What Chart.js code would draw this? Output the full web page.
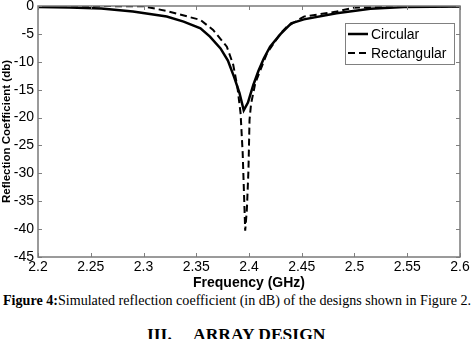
<!DOCTYPE html>
<html>
<head>
<meta charset="utf-8">
<script src="https://cdn.jsdelivr.net/npm/chart.js@4"></script>
<style>
  body { margin: 0; background: #fff; width: 474px; height: 339px; overflow: hidden; position: relative; }
  #plot { position: absolute; left: 0; top: 0; }
  .cap { position: absolute; font-family: "Liberation Serif", "Times New Roman", serif; color: #000; white-space: nowrap; }
  #caption { top: 292px; left: 0; width: 474px; text-align: center; font-size: 14.1px; }
  #secnum { top: 324px; left: 147px; font-size: 17.5px; font-weight: bold; }
  #secname { top: 324px; left: 193px; font-size: 17.5px; font-weight: bold; }
</style>
</head>
<body>
<canvas id="plot" width="474" height="292"></canvas>
<div class="cap" id="caption"><b>Figure 4:</b>Simulated reflection coefficient (in dB) of the designs shown in Figure 2.</div>
<div class="cap" id="secnum">III.</div>
<div class="cap" id="secname">ARRAY DESIGN</div>
<script>
// values (GHz, dB)
var circFreq = [2.20, 2.23, 2.26, 2.29, 2.322, 2.338, 2.354, 2.363, 2.373, 2.38, 2.386, 2.391, 2.395,
                2.399, 2.404, 2.409, 2.414, 2.42, 2.43, 2.44, 2.452, 2.483, 2.515, 2.547, 2.60];
var circDb   = [-0.2, -0.25, -0.45, -1.0, -1.9, -2.8, -4.0, -5.5, -7.6, -9.8, -12.8, -15.6, -18.7,
                -17.3, -14.2, -11.6, -9.4, -7.3, -5.0, -3.1, -2.4, -1.3, -0.5, -0.2, -0.1];

var rectFreq = [2.20, 2.25, 2.30, 2.322, 2.354, 2.366, 2.379, 2.385, 2.389, 2.392, 2.394, 2.3955, 2.3964,
                2.398, 2.3995, 2.4005, 2.402, 2.406, 2.417, 2.43, 2.436, 2.452, 2.483, 2.499, 2.55, 2.60];
var rectDb   = [0, 0, -0.05, -0.9, -2.5, -4.3, -7.3, -10.5, -14.5, -19.2, -26.3, -35, -40.3,
                -36.4, -29.3, -20.4, -17.5, -13.8, -8.5, -4.9, -3.7, -1.9, -1.0, -0.3, -0.1, -0.05];

var seriesNames = ['Circular', 'Rectangular'];
var xTitle = 'Frequency (GHz)';
var yTitle = 'Reflection Coefficient (db)';

function toPoints(xs, ys) {
    return xs.map(function(v, i) { return {x: v, y: ys[i]}; });
}

var sans = '"Liberation Sans", Arial, sans-serif';

// MATLAB style box with inward ticks
var frameTicks = {
    id: 'frameTicks',
    afterDatasetsDraw: function(chart) {
        var ctx = chart.ctx, a = chart.chartArea;
        var x = chart.scales.x, y = chart.scales.y;
        ctx.save();
        ctx.strokeStyle = '#808080';
        ctx.lineWidth = 1;
        ctx.beginPath();
        x.ticks.forEach(function(t) {
            var px = Math.round(x.getPixelForValue(t.value)) + 0.5;
            ctx.moveTo(px, a.bottom); ctx.lineTo(px, a.bottom - 4);
            ctx.moveTo(px, a.top); ctx.lineTo(px, a.top + 4);
        });
        y.ticks.forEach(function(t) {
            var py = Math.round(y.getPixelForValue(t.value)) + 0.5;
            ctx.moveTo(a.left, py); ctx.lineTo(a.left + 4, py);
            ctx.moveTo(a.right, py); ctx.lineTo(a.right - 4, py);
        });
        ctx.stroke();
        ctx.lineWidth = 1.5;
        ctx.strokeStyle = '#7a7a7a';
        ctx.strokeRect(a.left, a.top, a.right - a.left, a.bottom - a.top);
        ctx.restore();
    }
};

// legend box inside the axes, top right
var boxLegend = {
    id: 'boxLegend',
    afterDraw: function(chart) {
        var ctx = chart.ctx, a = chart.chartArea;
        var w = 109, h = 41;
        var bx = a.right - 6 - w, by = a.top + 17;
        ctx.save();
        ctx.fillStyle = '#fff';
        ctx.fillRect(bx, by, w, h);
        ctx.strokeStyle = '#808080';
        ctx.lineWidth = 1;
        ctx.strokeRect(bx + 0.5, by + 0.5, w, h);
        ctx.font = '14px ' + sans;
        ctx.textBaseline = 'middle';
        chart.data.datasets.forEach(function(ds, i) {
            var ly = by + 11 + i * 19;
            ctx.strokeStyle = ds.borderColor;
            ctx.lineWidth = ds.borderWidth;
            ctx.setLineDash(ds.borderDash || []);
            ctx.beginPath();
            ctx.moveTo(bx + 3, ly);
            ctx.lineTo(bx + 23, ly);
            ctx.stroke();
            ctx.setLineDash([]);
            ctx.fillStyle = '#000';
            ctx.fillText(ds.label, bx + 26, ly + 1);
        });
        ctx.restore();
    }
};

new Chart(document.getElementById('plot'), {
    type: 'line',
    data: {
        datasets: [
            {
                label: seriesNames[0],
                data: toPoints(circFreq, circDb),
                borderColor: '#000',
                borderWidth: 2.5,
                pointRadius: 0,
                tension: 0
            },
            {
                label: seriesNames[1],
                data: toPoints(rectFreq, rectDb),
                borderColor: '#000',
                borderWidth: 2,
                borderDash: [7, 4],
                pointRadius: 0,
                tension: 0
            }
        ]
    },
    options: {
        responsive: false,
        animation: false,
        layout: { padding: { left: 0, right: 14, top: 6, bottom: 0 } },
        plugins: {
            legend: { display: false },
            tooltip: { enabled: false }
        },
        scales: {
            x: {
                type: 'linear',
                min: 2.2,
                max: 2.6,
                grid: { display: false, drawTicks: false },
                border: { display: false },
                ticks: {
                    stepSize: 0.05,
                    color: '#000',
                    padding: 2,
                    maxRotation: 0,
                    font: { family: sans, size: 14 },
                    callback: function(v) { return String(Number(v.toFixed(2))); }
                },
                title: {
                    display: true,
                    text: xTitle,
                    color: '#000',
                    padding: { top: 0, bottom: 0 },
                    font: { family: sans, size: 14, weight: 'bold' }
                },
                afterFit: function(s) { s.height = 35; s.paddingLeft = 0; s.paddingRight = 0; }
            },
            y: {
                min: -45,
                max: 0,
                grid: { display: false, drawTicks: false },
                border: { display: false },
                ticks: {
                    stepSize: 5,
                    color: '#000',
                    padding: 4,
                    crossAlign: 'near',
                    font: { family: sans, size: 14 },
                    callback: function(v) { return v < 0 ? '-' + Math.abs(v) : String(v); }
                },
                title: {
                    display: true,
                    text: yTitle,
                    color: '#000',
                    padding: { top: 0, bottom: 0 },
                    font: { family: sans, size: 11.5, weight: 'bold' }
                },
                afterFit: function(s) { s.width = 38; s.paddingTop = 0; s.paddingBottom = 0; }
            }
        }
    },
    plugins: [frameTicks, boxLegend]
});
</script>
</body>
</html>
